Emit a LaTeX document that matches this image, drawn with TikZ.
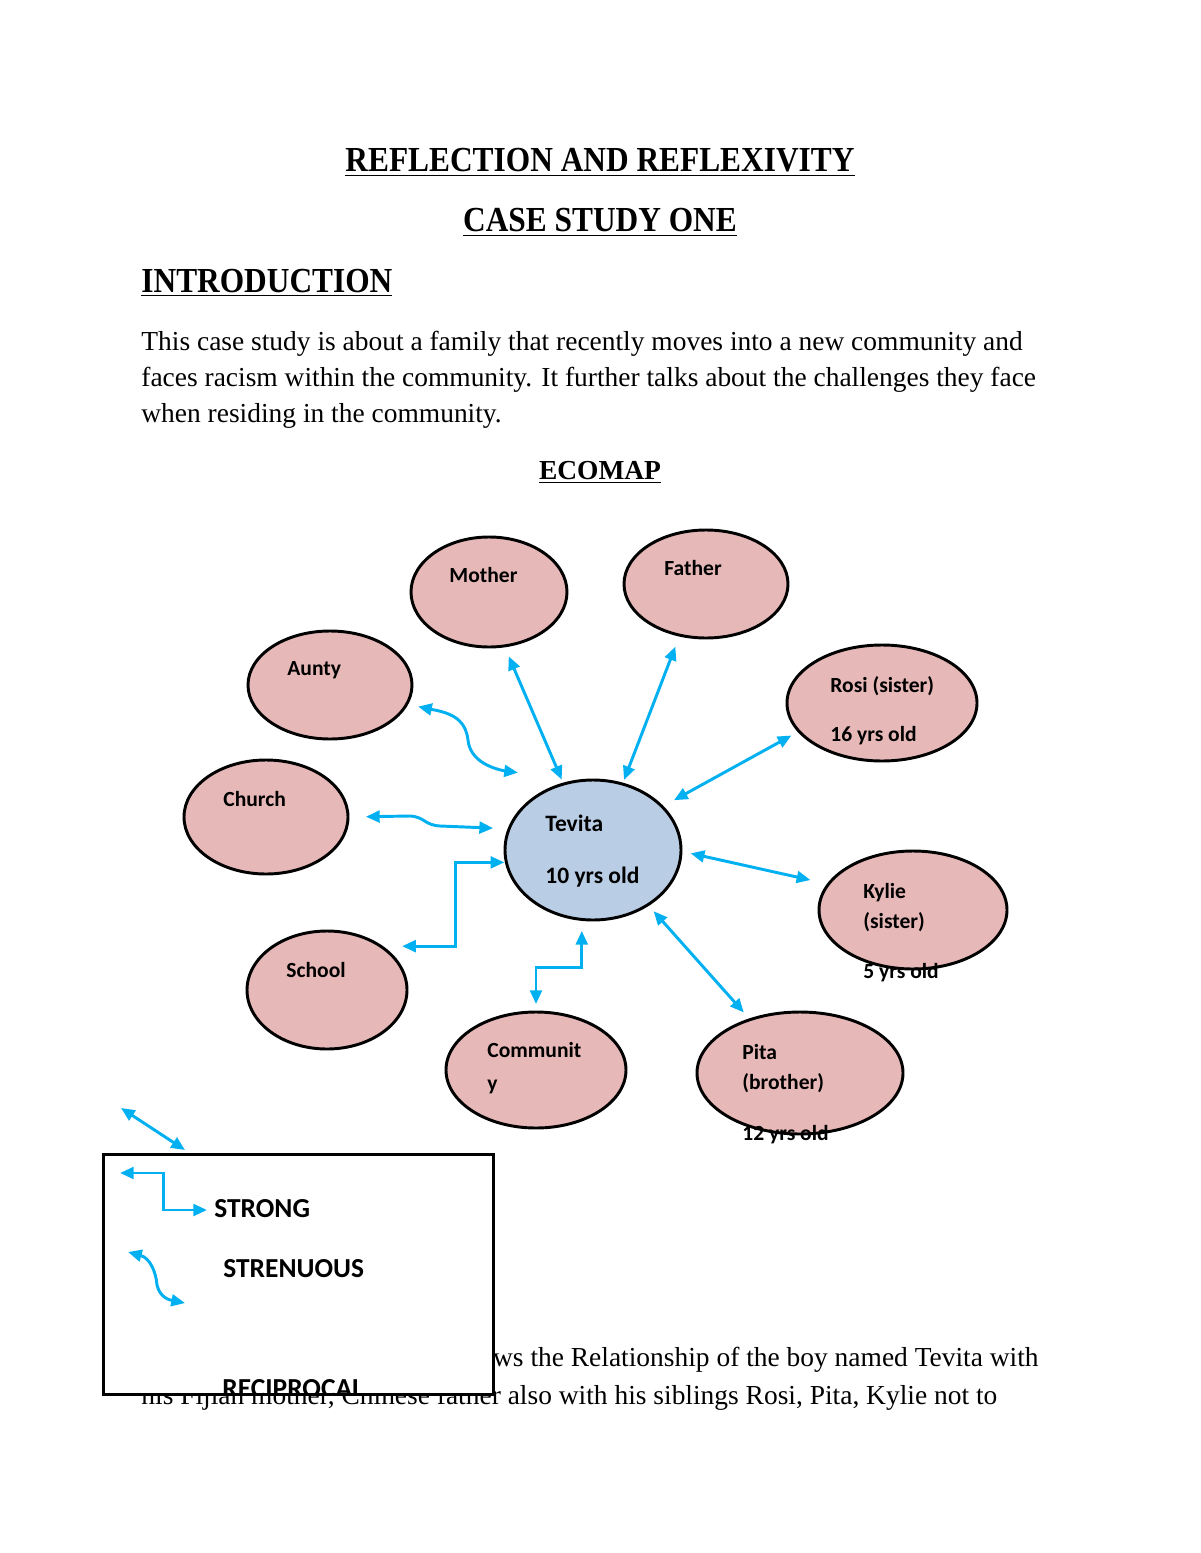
\documentclass[tikz,border=0pt]{standalone}
\usepackage{fontspec}
\setmainfont{Liberation Serif}
\newfontfamily\calibrifont{Carlito}
\usetikzlibrary{shapes.geometric,arrows.meta,calc}
\definecolor{pinkfill}{HTML}{E6B8B7}
\definecolor{bluefill}{HTML}{B9CDE5}
\definecolor{arrowblue}{HTML}{00B0F0}
\begin{document}
\begin{tikzpicture}[x=0.51pt,y=-0.51pt,
  ell/.style={ellipse, draw=black, line width=1.5pt, fill=pinkfill, inner sep=0pt},
  esize/.style 2 args={minimum width=#1*0.51pt, minimum height=#2*0.51pt},
  lbl/.style={anchor=base west, inner sep=0pt, font=\calibrifont\bfseries\fontsize{11}{13}\selectfont},
  biglbl/.style={anchor=base west, inner sep=0pt, font=\calibrifont\bfseries\fontsize{12}{14}\selectfont},
  leglbl/.style={anchor=base west, inner sep=0pt, font=\calibrifont\bfseries\fontsize{14}{16}\selectfont},
  head/.style={inner sep=0pt, font=\bfseries\fontsize{16}{19}\selectfont},
  body/.style={anchor=base west, inner sep=0pt, font=\fontsize{14}{17}\selectfont},
  rel/.style={draw=arrowblue, line width=1.5pt, {Triangle[length=7pt,width=6pt]}-{Triangle[length=7pt,width=6pt]}}
]
\useasboundingbox[fill=white] (0,0) rectangle (1200,1553);

% headings and text
\node[head, anchor=base] (title) at (600,172) {\scalebox{1}[1.12]{\underline{REFLECTION AND REFLEXIVITY}}};
\node[head, anchor=base] (case) at (600,232) {\scalebox{1}[1.12]{\underline{CASE STUDY ONE}}};
\node[head, anchor=base west] (intro) at (141,292) {\scalebox{1}[1.12]{\underline{INTRODUCTION}}};
\node[body] (p1) at (141,350) {This case study is about a family that recently moves into a new community and};
\node[body] (p2) at (141,386) {faces racism within the community. It further talks about the challenges they face};
\node[body] (p3) at (141,422) {when residing in the community.};
\node[anchor=base, inner sep=0pt, font=\bfseries\fontsize{14}{17}\selectfont] (ecomap) at (600,479) {\underline{ECOMAP}};

% ecomap nodes
\node[ell, esize={156}{110}] (mother) at (489,592) {};
\node[ell, esize={164}{108}] (father) at (706,584) {};
\node[ell, esize={164}{108}] (aunty) at (330,685) {};
\node[ell, esize={190}{116}] (rosi) at (882,703) {};
\node[ell, esize={164}{114}] (church) at (266,817) {};
\node[ell, esize={176}{140}, fill=bluefill] (tev) at (593,850) {};
\node[ell, esize={188}{118}] (kylie) at (913,910) {};
\node[ell, esize={160}{118}] (school) at (327,990) {};
\node[ell, esize={180}{116}] (comm) at (536,1070) {};
\node[ell, esize={206}{122}] (pita) at (800,1073) {};

% labels
\node[lbl] (tmother) at (449,582) {Mother};
\node[lbl] (tfather) at (664,575) {Father};
\node[lbl] (taunty) at (287,675) {Aunty};
\node[lbl] (trosi1) at (830,692) {Rosi (sister)};
\node[lbl] (trosi2) at (830,741) {16 yrs old};
\node[lbl] (tchurch) at (223,806) {Church};
\node[biglbl] (ttev1) at (545,831) {Tevita};
\node[biglbl] (ttev2) at (545,883) {10 yrs old};
\node[lbl] (tkylie1) at (863,898) {Kylie};
\node[lbl] (tkylie2) at (863,928) {(sister)};
\node[lbl] (tkylie3) at (863,978) {5 yrs old};
\node[lbl] (tschool) at (286,977) {School};
\node[lbl] (tcomm1) at (487,1057) {Communit};
\node[lbl] (tcomm2) at (487,1090) {y};
\node[lbl] (tpita1) at (742,1059) {Pita};
\node[lbl] (tpita2) at (742,1089) {(brother)};
\node[lbl] (tpita3) at (742,1140) {12 yrs old};

% connectors
\draw[rel, shorten <=5pt, shorten >=1.7pt] (mother.-74.5) -- (tev.114.6);
\draw[rel, shorten <=5.5pt, shorten >=1.5pt] (father.-117.3) -- (tev.66.1);
\draw[rel, shorten <=3.7pt, shorten >=6.1pt] (rosi.-161.9) -- (tev.32.5);
\draw[rel, shorten <=8.7pt, shorten >=4.3pt] (kylie.163.8) -- (tev.-1.75);
\draw[rel, shorten <=4.1pt, shorten >=3.7pt] (pita.133.5) -- (tev.-45);
\draw[rel, shorten <=5.1pt, shorten >=3.3pt] (tev.-99.1) -- ++(0,47) -| (comm.north);
\draw[rel, shorten <=9.7pt, shorten >=0.3pt] (school.38.1) -- ++(72,0) |- (tev.188.5);
\draw[rel, shorten <=8.4pt, shorten >=7.4pt] (church.east) -- (410,816) .. controls (425,817) and (424,825) .. (440,826) -- (tev.166);
\draw[rel, shorten <=5.2pt, shorten >=29.6pt] (aunty.-14) -- (432,709.5) .. controls (458,714) and (466,724) .. (468,740) .. controls (470,760) and (490,768) .. (505,771) -- (tev.104);

% bottom text (partly covered by the legend)
\node[body, anchor=base east] (b1) at (1039,1366) {ws the Relationship of the boy named Tevita with};
\node[body] (b2) at (141,1404) {his Fijian mother, Chinese father also with his siblings Rosi, Pita, Kylie not to};

% legend
\node[draw=black, line width=1.5pt, fill=white, inner sep=0pt, outer sep=0pt,
      minimum width=198.5pt, minimum height=122.4pt] (legend) at (298.5,1274.5) {};
\begin{scope}
  \clip ([xshift=0.75pt,yshift=0.75pt]legend.south west) rectangle ([xshift=-0.75pt,yshift=-0.75pt]legend.north east);
  \node[leglbl] (trecip) at (222,1397) {RECIPROCAL};
\end{scope}
\node[leglbl] (tstrong) at (214,1217) {STRONG};
\node[leglbl] (tstren) at (223,1277) {STRENUOUS};

\coordinate (l1a) at (121,1108);
\coordinate (l1b) at (185,1150);
\coordinate (l2a) at (120,1173);
\coordinate (l2b) at (207,1210);
\coordinate (l3a) at (128,1252);
\coordinate (l3b) at (185,1303);
\draw[rel] (l1a) -- (l1b);
\draw[rel] (l2a) -| ($(l2a)!0.5!(l2b)$) |- (l2b);
\draw[rel] (l3a) .. controls (150,1258) and (156,1272) .. (157,1285) .. controls (160,1298) and (170,1300) .. (l3b);
\end{tikzpicture}
\end{document}
